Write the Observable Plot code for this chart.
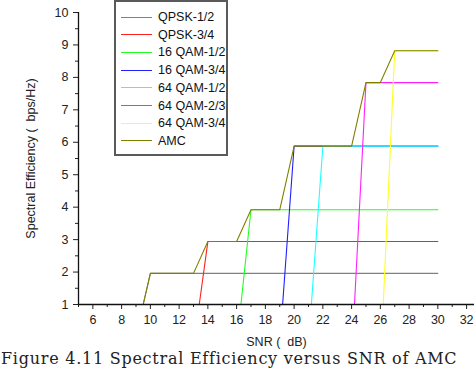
<!DOCTYPE html>
<html>
<head>
<meta charset="utf-8">
<script src="https://cdn.jsdelivr.net/npm/d3@7"></script>
<script src="https://cdn.jsdelivr.net/npm/@observablehq/plot@0.6"></script>
<style>
  html, body { margin: 0; padding: 0; background: #fff; overflow: hidden; }
  #wrap { position: relative; width: 474px; height: 368px; overflow: hidden; font-family: "Liberation Sans", Arial, sans-serif; }
  #legend { position: absolute; left: 114px; top: -1px; width: 110px; height: 152px; border: 2px solid #5a5a5a; border-top-width: 3px; background: #fff; }
  .row { position: absolute; left: 0; height: 18px; display: flex; align-items: center; font-size: 12.5px; color: #111; }
  .row .sw { width: 31px; height: 1px; margin-left: 5px; margin-right: 6px; }
  #caption { position: absolute; left: 1px; top: 349px; line-height: 19px; font-family: "DejaVu Serif", "Liberation Serif", serif; font-size: 16px; letter-spacing: 0.75px; white-space: nowrap; color: #222; }
</style>
</head>
<body>
<div id="wrap"></div>
<script>
const modes = ["QPSK-1/2", "QPSK-3/4", "16 QAM-1/2", "16 QAM-3/4", "64 QAM-1/2", "64 QAM-2/3", "64 QAM-3/4"];
const startSnr = [9.5, 13.4, 16.3, 19.2, 21.2, 24.2, 26.2];
const riseSnr = [10, 14, 17, 20, 22, 25, 27];
const endSnr = 30;
const efficiency = [1.96, 2.94, 3.92, 5.88, 5.88, 7.84, 8.82];
const amcSnr = [9.5, 10, 13, 14, 16, 17, 19, 20, 24, 25, 26, 27, 30];
const amcEff = [1, 1.96, 1.96, 2.94, 2.94, 3.92, 3.92, 5.88, 5.88, 7.84, 7.84, 8.82, 8.82];
const seriesNames = [...modes, "AMC"];
const colors = ["#808080", "#ff2020", "#20ff20", "#2020ff", "#20ffff", "#ff20ff", "#ffff20", "#808000"];
const xTicks = [6, 8, 10, 12, 14, 16, 18, 20, 22, 24, 26, 28, 30, 32];
const xMinor = [5, 7, 9, 11, 13, 15, 17, 19, 21, 23, 25, 27, 29, 31];
const yTicks = [1, 2, 3, 4, 5, 6, 7, 8, 9, 10];
const yMinor = [1.5, 2.5, 3.5, 4.5, 5.5, 6.5, 7.5, 8.5, 9.5];

const rows = [];
modes.forEach((m, i) => {
  rows.push({series: m, snr: startSnr[i], eff: 1});
  rows.push({series: m, snr: riseSnr[i], eff: efficiency[i]});
  rows.push({series: m, snr: endSnr, eff: efficiency[i]});
});
amcSnr.forEach((s, i) => rows.push({series: "AMC", snr: s, eff: amcEff[i]}));

const font = "Liberation Sans, Arial, sans-serif";
const chart = Plot.plot({
  width: 474,
  height: 368,
  marginTop: 12,
  marginBottom: 64,
  marginLeft: 78,
  marginRight: 0,
  style: {fontFamily: font, fontSize: "12px", color: "#222", background: "transparent", overflow: "visible"},
  x: {domain: [5, 32.55]},
  y: {domain: [1, 10]},
  color: {domain: seriesNames, range: colors},
  marks: [
    Plot.axisY(yTicks, {anchor: "left", tickSize: 5, tickPadding: 5, fontSize: 12.5, label: "Spectral Efficiency (  bps/Hz)", labelAnchor: "center", labelOffset: 52, labelArrow: "none"}),
    Plot.axisY(yMinor, {anchor: "left", tickSize: 3, text: null, label: null}),
    Plot.axisX(xTicks, {anchor: "bottom", tickSize: 5, tickPadding: 6, fontSize: 12.5, label: "SNR (  dB)", labelAnchor: "center", labelOffset: 41, labelArrow: "none"}),
    Plot.axisX(xMinor, {anchor: "bottom", tickSize: 3, text: null, label: null}),
    Plot.line(rows, {x: "snr", y: "eff", z: "series", stroke: "series", strokeWidth: 1.1, curve: "linear"}),
    Plot.ruleX([5], {stroke: "#111", strokeWidth: 1.3}),
    Plot.ruleY([1], {stroke: "#111", strokeWidth: 1.3})
  ]
});
const wrap = document.getElementById("wrap");
wrap.appendChild(chart);

const legend = document.createElement("div");
legend.id = "legend";
seriesNames.forEach((name, i) => {
  const r = document.createElement("div");
  r.className = "row";
  r.style.top = (6 + i * 17.7) + "px";
  const sw = document.createElement("span");
  sw.className = "sw";
  sw.style.background = colors[i];
  const t = document.createElement("span");
  t.textContent = name;
  r.appendChild(sw);
  r.appendChild(t);
  legend.appendChild(r);
});
wrap.appendChild(legend);

const cap = document.createElement("div");
cap.id = "caption";
cap.textContent = "Figure 4.11 Spectral Efficiency versus SNR of AMC";
wrap.appendChild(cap);
</script>
</body>
</html>
